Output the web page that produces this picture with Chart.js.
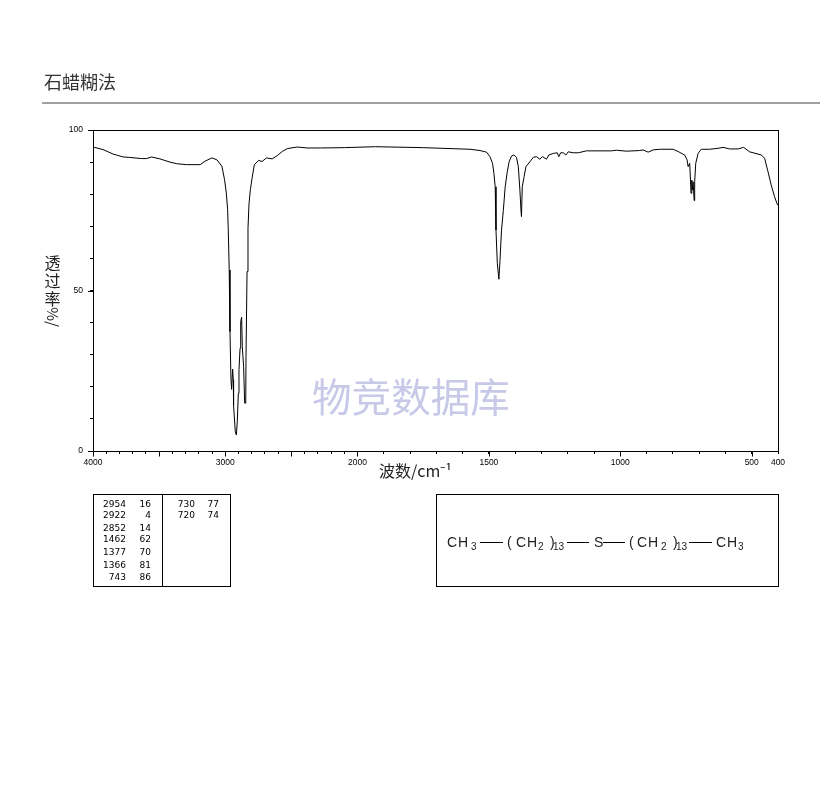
<!DOCTYPE html>
<html lang="zh">
<head>
<meta charset="utf-8">
<title>石蜡糊法</title>
<script src="https://cdn.jsdelivr.net/npm/chart.js@4/dist/chart.umd.js"></script>
<style>
html,body{margin:0;padding:0;background:#fff;}
#page{position:relative;width:822px;height:794px;overflow:hidden;font-family:"Liberation Sans",sans-serif;color:#000;}
#page div,#page span{position:absolute;white-space:nowrap;}
canvas{position:absolute;left:0;top:0;}
.cjk{font-family:"Noto Sans CJK SC",sans-serif;}
.box{border:1px solid #000;box-sizing:border-box;}
.layer{left:0;top:0;width:822px;height:794px;}
.pk{font:9px "DejaVu Sans",sans-serif;line-height:10px;text-align:right;}
.st{font-size:14px;line-height:14px;color:#222;}
.sub{font-size:10px;line-height:10px;color:#222;}
.bond{height:1px;background:#000;}
</style>
</head>
<body>
<div id="page">
<canvas id="c" width="822" height="794"></canvas>
<div class="cjk" style="left:44px;top:68px;font-size:18px;line-height:26px;color:#333;">石蜡糊法</div>
<div style="left:42px;top:102px;width:778px;height:2px;background:#a0a0a0;"></div>
<div class="cjk" style="left:44px;top:253px;font-size:16px;line-height:18px;width:17px;text-align:center;color:#222;white-space:normal;">透<br>过<br>率</div>
<div class="cjk" style="left:44px;top:307px;width:17px;height:20px;color:#222;"><span style="left:-2px;top:0;width:21px;height:20px;font-size:15px;line-height:20px;text-align:center;transform:rotate(90deg);">%/</span></div>
<div class="cjk" style="left:379px;top:458px;font-size:16px;line-height:24px;color:#222;">波数/cm⁻¹</div>
<div class="cjk" style="left:312px;top:370px;font-size:39.6px;line-height:50px;color:#c8c8e8;">物竞数据库</div>
<div class="box" style="left:93px;top:494px;width:138px;height:93px;"></div>
<div style="left:162px;top:494px;width:1px;height:93px;background:#000;"></div>
<div id="peaks" class="layer"></div>
<div class="box" style="left:436px;top:494px;width:343px;height:93px;"></div>
<div id="struct" class="layer"></div>
</div>
<script>
const spectrumWavenumber = [4000,3924,3848,3772,3734,3633,3595,3557,3494,3418,3367,3291,3190,3152,3101,3063,3025,3005,2992,2982,2977,2970,2964,2957,2952,2944,2939,2937,2924,2916,2909,2901,2896,2888,2883,2876,2871,2861,2853,2845,2843,2835,2828,2820,2810,2797,2780,2747,2721,2688,2645,2607,2569,2531,2456,2380,2278,2100,1932,1750,1572,1534,1509,1496,1486,1481,1476,1473,1468,1462,1458,1452,1445,1438,1430,1423,1414,1405,1395,1388,1382,1378,1376,1373,1366,1359,1344,1331,1319,1306,1296,1281,1272,1255,1240,1234,1227,1217,1207,1198,1179,1160,1129,1034,1015,977,926,913,894,875,850,799,780,755,746,742,736,733,731,728,726,723,719,717,713,704,692,660,628,609,584,552,531,508,463,451,438,426,413,403,400];
const spectrumTransmittance = [94.7,93.9,92.5,91.6,91.5,91.1,91.1,91.6,91.0,90.0,89.5,89.2,89.2,90.3,91.3,90.7,88.7,84.5,80.4,75.2,68.9,56.4,37.2,22.7,19.2,25.5,22.1,14.3,6.0,5.0,9.1,18,25.3,32,40.3,41.7,32.5,26.3,14.9,14.9,29.4,55.9,69.4,77.2,81.4,85,89.2,90.5,90.2,91.3,91,92,93.3,94.2,94.7,94.4,94.4,94.5,94.8,94.5,94.0,93.6,93.1,91.7,89.6,86.5,82.3,68.8,58.5,53.5,59,68.8,75,82.3,87,90.1,91.9,92.2,91.5,88.6,81.3,75.1,73.0,82.3,85.5,88.6,90.1,91.5,91.7,90.9,91.7,90.9,92.2,92.7,92.9,91.7,92.9,92.9,92.2,93.2,92.9,92.9,93.5,93.5,93.7,93.4,93.6,93.8,93.1,93.8,94,94,93.3,92.2,90.7,88.6,89.6,84.4,80.3,84.4,81.3,83.9,78,83.9,89.6,92.7,94,94,94.3,94.6,94.1,94.1,94.6,93.2,92.2,91.2,87,82.9,79.2,76.9,76.5];
const xTickValues = [4000,3900,3800,3700,3600,3500,3400,3300,3200,3100,3000,2900,2800,2700,2600,2500,2400,2300,2200,2100,2000,1900,1800,1700,1600,1500,1400,1300,1200,1100,1000,900,800,700,600,500,400];
const xMajorTicks = [4000,3500,3000,2500,2000,1500,1000,500];
const xLabelledTicks = [4000,3000,2000,1500,1000,500,400];
const yLabelledTicks = [0,50,100];
const axisBreak = 2000;
const breakFraction = 0.3861;
const peakWavenumbers1 = ["2954","2922","2852","1462","1377","1366","743"];
const peakPercents1 = ["16","4","14","62","70","81","86"];
const peakWavenumbers2 = ["730","720"];
const peakPercents2 = ["77","74"];
const peakRowTops = [499,510,523,534,547,560,572];

class IrScale extends Chart.LinearScale {
  static id = 'ir';
  static defaults = Chart.LinearScale.defaults;
  buildTicks() {
    this.min = 400; this.max = 4000;
    return xTickValues.map(v => ({value: v, major: xMajorTicks.includes(v)}));
  }
  fraction(v) {
    return v >= axisBreak
      ? (this.max - v) / (this.max - axisBreak) * breakFraction
      : breakFraction + (axisBreak - v) / (axisBreak - this.min) * (1 - breakFraction);
  }
  getPixelForValue(v) { return v === null ? NaN : this.left + this.width * this.fraction(v); }
  getPixelForTick(i) { return this.getPixelForValue(this.ticks[i].value); }
}
Chart.register(IrScale);

const frameAndMajorTicks = {
  id: 'frameAndMajorTicks',
  afterDraw(chart) {
    const {ctx, chartArea: a, scales: {x, y}} = chart;
    ctx.save();
    ctx.strokeStyle = '#000'; ctx.lineWidth = 1;
    ctx.strokeRect(a.left + .5, a.top + .5, a.right - a.left, a.bottom - a.top);
    ctx.beginPath();
    x.ticks.filter(t => t.major).forEach(t => {
      const p = Math.round(x.getPixelForValue(t.value)) + .5;
      ctx.moveTo(p, a.bottom); ctx.lineTo(p, a.bottom + 5.5);
    });
    yLabelledTicks.forEach(v => {
      const p = Math.round(y.getPixelForValue(v)) + .5;
      ctx.moveTo(a.left, p); ctx.lineTo(a.left - 5, p);
    });
    ctx.stroke();
    ctx.restore();
  }
};

new Chart(document.getElementById('c'), {
  type: 'line',
  data: {datasets: [{
    data: spectrumWavenumber.map((w, i) => ({x: w, y: spectrumTransmittance[i]})),
    borderColor: '#000', borderWidth: 1, pointRadius: 0, tension: 0, fill: false
  }]},
  plugins: [frameAndMajorTicks],
  options: {
    responsive: false, animation: false, devicePixelRatio: 1,
    layout: {padding: {top: 130, right: 44, bottom: 319, left: 0}},
    plugins: {legend: {display: false}, tooltip: {enabled: false}},
    scales: {
      x: {
        type: 'ir', min: 400, max: 4000,
        afterFit: s => { s.height = 24; },
        border: {display: false},
        grid: {drawOnChartArea: false, tickLength: 3, color: '#000', tickWidth: 1},
        ticks: {
          autoSkip: false, maxRotation: 0, minRotation: 0, padding: 4, color: '#000',
          font: {family: 'Liberation Sans', size: 8.5},
          callback: v => xLabelledTicks.includes(v) ? String(v) : ''
        }
      },
      y: {
        min: 0, max: 100,
        afterFit: s => { s.width = 93; },
        border: {display: false},
        grid: {drawOnChartArea: false, tickLength: 3, color: '#000', tickWidth: 1},
        ticks: {
          stepSize: 10, autoSkip: false, padding: 7, color: '#000',
          font: {family: 'Liberation Sans', size: 8.5},
          callback: v => yLabelledTicks.includes(v) ? String(v) : ''
        }
      }
    }
  }
});

// peak table
const peaksEl = document.getElementById('peaks');
function addPeak(text, right, top) {
  const d = document.createElement('div');
  d.className = 'pk'; d.textContent = text;
  d.style.right = (822 - right) + 'px'; d.style.top = top + 'px';
  peaksEl.appendChild(d);
}
peakWavenumbers1.forEach((t, i) => { addPeak(t, 126, peakRowTops[i]); addPeak(peakPercents1[i], 151, peakRowTops[i]); });
peakWavenumbers2.forEach((t, i) => { addPeak(t, 195, peakRowTops[i]); addPeak(peakPercents2[i], 219, peakRowTops[i]); });

// structure formula
const structEl = document.getElementById('struct');
const structText = [["CH",447,'st'],["3",471,'sub'],["(",507,'st'],["CH",516,'st'],["2",538,'sub'],[")",550,'st'],["13",553,'sub'],["S",594,'st'],["(",629,'st'],["CH",637,'st'],["2",661,'sub'],[")",673,'st'],["13",676,'sub'],["CH",716,'st'],["3",738,'sub']];
structText.forEach(([t, x, c]) => {
  const d = document.createElement('div');
  d.className = c; d.textContent = t;
  d.style.left = x + 'px'; d.style.top = (c === 'st' ? 535 : 542) + 'px';
  if (c === 'st') d.style.letterSpacing = '1px';
  structEl.appendChild(d);
});
[[480,23],[567,22],[603,22],[689,23]].forEach(([x, w]) => {
  const d = document.createElement('div');
  d.className = 'bond';
  d.style.left = x + 'px'; d.style.width = w + 'px'; d.style.top = '542px';
  structEl.appendChild(d);
});
</script>
</body>
</html>
